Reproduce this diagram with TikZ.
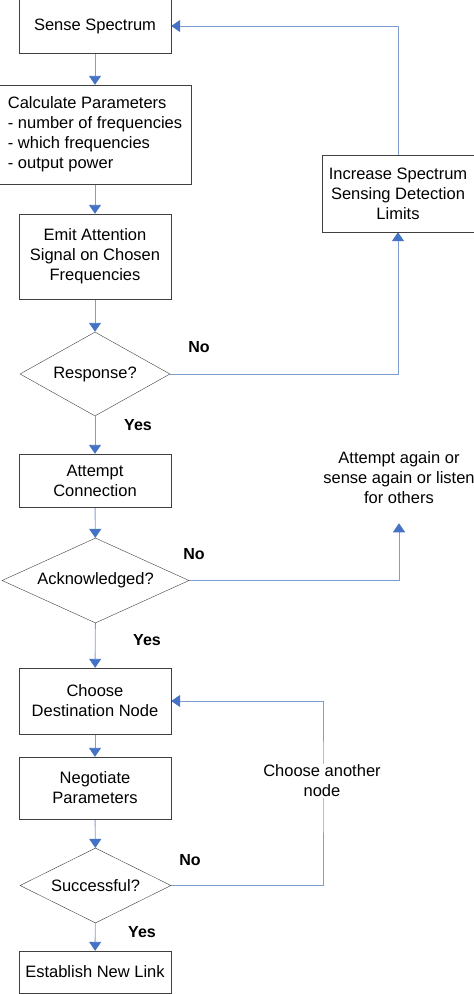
\documentclass[tikz,border=0pt]{standalone}
\usepackage{fontspec}
\setmainfont{Liberation Sans}
\usetikzlibrary{arrows.meta, positioning, shapes.geometric, backgrounds}
\definecolor{flowline}{HTML}{7F9ED0}
\definecolor{flowtip}{HTML}{4472C4}
\definecolor{boxline}{HTML}{404040}

\begin{document}
\begin{tikzpicture}[
    x=1pt, y=-1pt,
    font=\fontsize{16.5}{20}\selectfont,
    stepbox/.style={draw=boxline, fill=white, thin, minimum width=152pt,
        align=center, inner sep=2pt},
    decision/.style={draw=boxline, fill=white, thin, diamond, inner sep=0pt,
        align=center},
    flow/.style={-{Triangle[length=9pt, width=12pt, color=flowtip]},
        line width=0.9pt, color=flowline},
    answer/.style={font=\fontsize{16}{20}\selectfont\bfseries},
    note/.style={align=center, fill=white, inner sep=1pt}
]
\useasboundingbox (0,0) rectangle (474,994);

% --- Main column ---
\node[stepbox, minimum height=54pt] (sense) at (95, 26) {Sense Spectrum};
\node[stepbox, minimum width=192pt, minimum height=99pt, align=left] (calc) at (95, 134.5)
    {Calculate Parameters\\- number of frequencies\\- which frequencies\\- output power};
\node[stepbox, minimum height=85pt] (emit) at (95, 256.5) {Emit Attention\\Signal on Chosen\\Frequencies};
\node[decision, aspect=1.8, minimum width=150pt, minimum height=84pt] (resp) at (95, 374) {Response?};
\node[stepbox, minimum height=53pt] (attempt) at (95, 480.5) {Attempt\\Connection};
\node[decision, aspect=2.2, minimum width=187pt, minimum height=85pt] (ack) at (95.5, 580.5) {Acknowledged?};
\node[stepbox, minimum height=66pt] (choose) at (95, 701) {Choose\\Destination Node};
\node[stepbox, minimum height=62pt] (nego) at (95, 788) {Negotiate\\Parameters};
\node[decision, aspect=2.0, minimum width=151pt, minimum height=75pt] (succ) at (95.5, 885.5) {Successful?};
\node[stepbox, minimum height=42pt] (link) at (95, 972) {Establish New Link};

% --- Right-hand side ---
\node[stepbox, minimum height=77pt] (incr) at (398, 193.5) {Increase Spectrum\\Sensing Detection\\Limits};
\node[note] (retry) at (399, 478) {Attempt again or\\sense again or listen\\for others};
\node[note] (another) at (322, 781) {Choose another\\node};

% --- Decision labels ---
\node[answer] (no1) at (199, 347) {No};
\node[answer] (yes1) at (138, 425) {Yes};
\node[answer] (no2) at (194, 554) {No};
\node[answer] (yes2) at (147, 640) {Yes};
\node[answer] (no3) at (190, 860) {No};
\node[answer] (yes3) at (142, 932) {Yes};

% --- Connectors ---
\begin{scope}[on background layer]
\draw[flow] (sense) -- (calc);
\draw[flow] (calc) -- (emit);
\draw[flow] (emit) -- (resp);
\draw[flow] (resp) -- (attempt);
\draw[flow] (attempt) -- (ack);
\draw[flow] (ack) -- (choose);
\draw[flow] (choose) -- (nego);
\draw[flow] (nego) -- (succ);
\draw[flow] (succ) -- (link);

\draw[flow] (resp.east) -| (incr.south);
\draw[flow] (incr.north) |- (sense.east);
\draw[flow] (ack.east) -| ([yshift=-18pt]retry.south);
\draw[flow] (succ.east) -| ([xshift=1pt]another.center) |- (choose.east);
\end{scope}

\end{tikzpicture}
\end{document}
